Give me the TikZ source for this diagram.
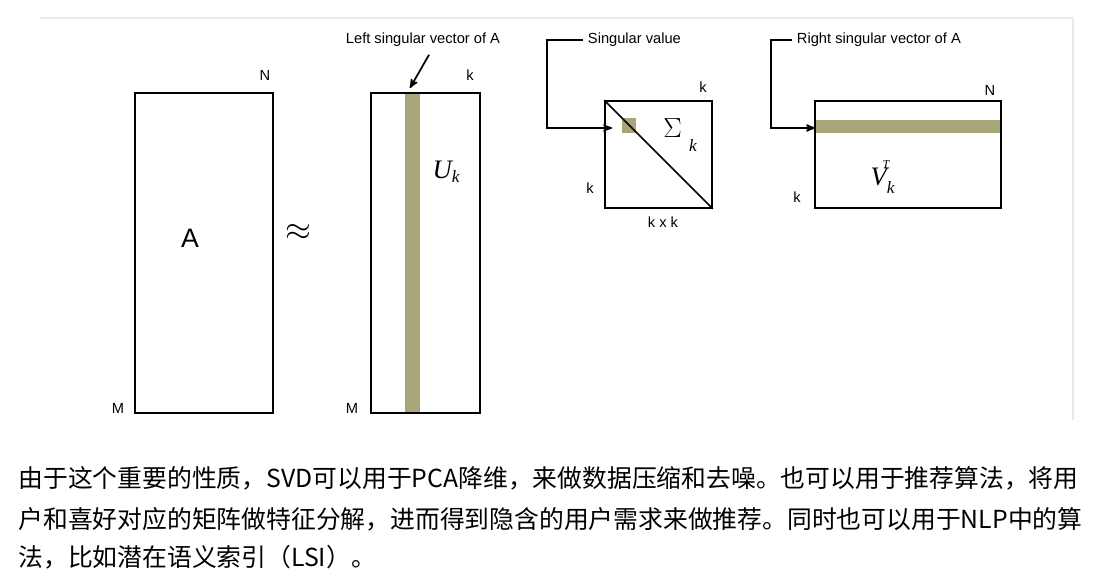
\documentclass[tikz,border=0pt]{standalone}
\usepackage{fontspec}
\setmainfont{Liberation Sans}
\setsansfont{Liberation Sans}
\newfontfamily\cjk{Noto Sans CJK SC}
\newfontfamily\tms{Liberation Serif}
\usetikzlibrary{arrows}
\definecolor{stripe}{RGB}{168,166,120}
\definecolor{framecol}{RGB}{226,238,226}
\begin{document}
\begin{tikzpicture}[x=0.75pt,y=-0.75pt,>=stealth',thick,
  mat/.style={draw,line width=1.2pt},
  lab/.style={font=\sffamily\fontsize{11pt}{13pt}\selectfont},
  sym/.style={font=\tms\itshape\fontsize{20pt}{22pt}\selectfont},
  captext/.style={anchor=west,font=\cjk\fontsize{18.6pt}{22pt}\selectfont,inner sep=0},
  conn/.style={->,line width=1.3pt}]
  \useasboundingbox (0,0) rectangle (1103,584);
  \fill[white] (0,0) rectangle (1103,584);
  % frame of the image
  \draw[framecol,line width=1.5pt] (40,18) -- (1073,18) -- (1073,420);

  % matrix A
  \node[mat,minimum width=103.5pt,minimum height=240pt] (A) at (204,253) {};
  \node[font=\sffamily\fontsize{20pt}{22pt}\selectfont] (Alab) at (190,238) {A};
  \node[lab] (AN) at (265,75) {N};
  \node[lab] (AM) at (118,408) {M};
  \node[font=\bfseries\fontsize{30pt}{30pt}\selectfont] (approx) at (298,232) {$\approx$};

  % matrix U_k
  \fill[stripe] (405,93) rectangle (420,413);
  \node[mat,minimum width=81.75pt,minimum height=240pt] (U) at (425.5,253) {};
  \node[sym] (Ulab) at (446,172) {U\raisebox{-0.35ex}{\fontsize{13pt}{13pt}\selectfont k}};
  \node[lab] (Uk) at (470,75) {k};
  \node[lab] (UM) at (352,408) {M};
  \node[lab] (Ulft) at (423,40) {Left singular vector of A};
  \coordinate (Utip) at (410,88);
  \draw[conn] (Ulft.south)+(6,3) -- (Utip);

  % matrix Sigma_k
  \fill[stripe] (622,118) rectangle (636,133);
  \node[mat,minimum width=80.25pt,minimum height=80.25pt] (S) at (658.5,154.5) {};
  \draw[line width=1.2pt] (S.north west) -- (S.south east);
  \node[sym] (Slab) at (680,135) {$\Sigma$\raisebox{-1.2ex}{\fontsize{13pt}{13pt}\selectfont\, k}};
  \node[lab] (Sk1) at (703,87) {k};
  \node[lab] (Sk2) at (590,188) {k};
  \node[lab] (Skk) at (663,222) {k x k};
  \node[lab,anchor=west] (Sval) at (583,40) {Singular value};
  \coordinate (Sin) at (612,128);
  \draw[conn] (Sval.west) -| (547,128) -- (Sin);

  % matrix V_k^T
  \fill[stripe] (815,120) rectangle (1001,133);
  \node[mat,minimum width=139.5pt,minimum height=80.25pt] (V) at (908,154.5) {};
  \node[sym] (Vlab) at (880,177) {V\raisebox{-0.6ex}{\fontsize{13pt}{13pt}\selectfont k}\hspace{-0.45em}\raisebox{1.4ex}{\fontsize{9pt}{9pt}\selectfont T}};
  \node[lab] (VN) at (990,90) {N};
  \node[lab] (Vk) at (797,197) {k};
  \node[lab,anchor=west] (Vrgt) at (792,40) {Right singular vector of A};
  \coordinate (Vin) at (815,128);
  \draw[conn] (Vrgt.west) -| (771,128) -- (Vin);

  % caption text
  \node[captext] (t1) at (18,478) {由于这个重要的性质，SVD可以用于PCA降维，来做数据压缩和去噪。也可以用于推荐算法，将用};
  \node[captext] (t2) at (18,519) {户和喜好对应的矩阵做特征分解，进而得到隐含的用户需求来做推荐。同时也可以用于NLP中的算};
  \node[captext] (t3) at (18,557) {法，比如潜在语义索引（LSI）。};
\end{tikzpicture}
\end{document}
